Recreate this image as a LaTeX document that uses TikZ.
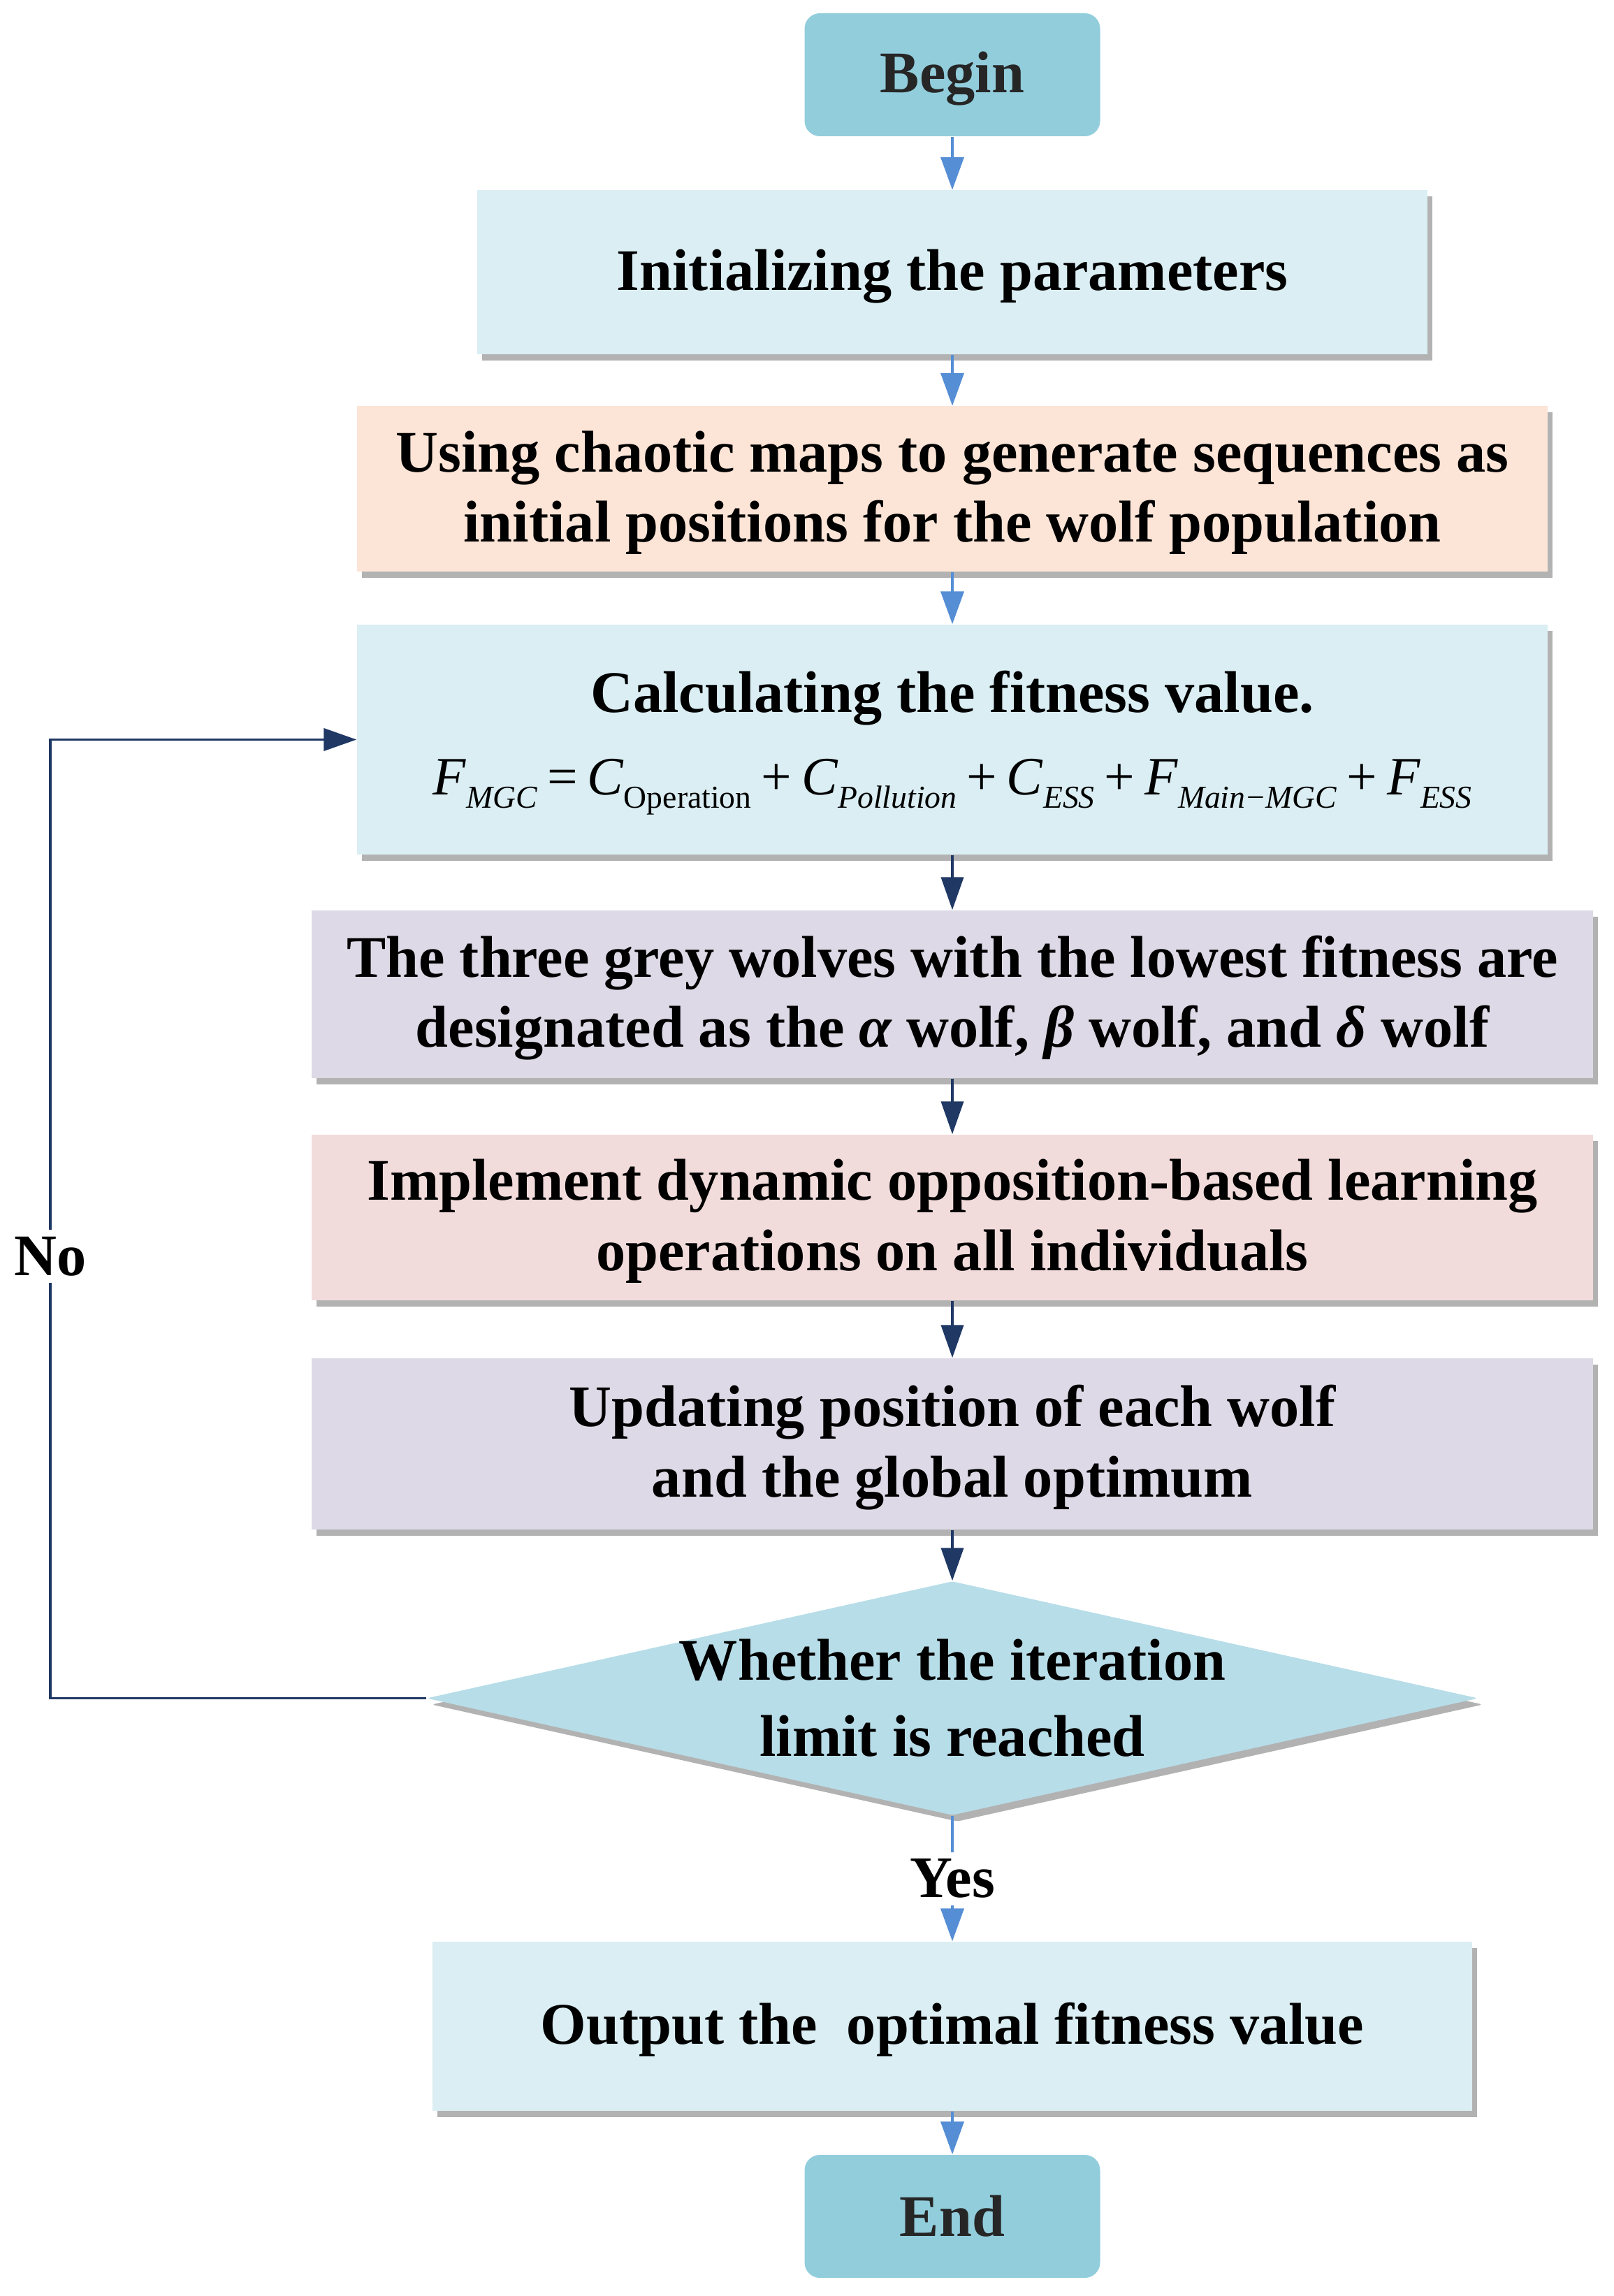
\documentclass[tikz,border=0pt]{standalone}
\usepackage{fontspec}
\setmainfont{Liberation Serif}
\usetikzlibrary{shapes.geometric,shadows,arrows.meta,calc}
\definecolor{cBegin}{HTML}{92CDDC}
\definecolor{cLight}{HTML}{DAEEF3}
\definecolor{cPeach}{HTML}{FCE4D6}
\definecolor{cLav}{HTML}{DDD9E6}
\definecolor{cPink}{HTML}{F2DCDB}
\definecolor{cDia}{HTML}{B7DDE8}
\definecolor{cArrL}{HTML}{558ED5}
\definecolor{cArrD}{HTML}{1F3864}
\newcommand{\sbs}[1]{\raisebox{-5.5pt}{\fontsize{13}{13}\selectfont #1}}
\newcommand{\opsp}{\hspace{0.18em}}
\newcommand{\topstrut}{\rule{0pt}{19.7pt}}
\begin{document}
\begin{tikzpicture}[
  every node/.style={font=\bfseries\fontsize{24}{28.6}\selectfont},
  term/.style={rectangle, rounded corners=0.22cm, fill=cBegin, minimum width=4.23cm, minimum height=1.76cm, text=black!85},
  procbox/.style={rectangle, inner sep=0pt, align=center, drop shadow={shadow xshift=0.07cm, shadow yshift=-0.09cm, fill=black, opacity=0.3}},
  decision/.style={diamond, inner sep=0pt, fill=cDia, minimum width=15.05cm, minimum height=3.35cm, rounded corners=0.05cm, drop shadow={shadow xshift=0.07cm, shadow yshift=-0.09cm, fill=black, opacity=0.3}},
  lightarrow/.style={draw=cArrL, line width=1.1pt, -{Triangle[width=0.33cm,length=0.47cm]}},
  darkarrow/.style={draw=cArrD, line width=1.1pt, -{Triangle[width=0.32cm,length=0.47cm]}},
  lbl/.style={fill=white, inner sep=0.1cm}
]
\useasboundingbox (0,0) rectangle (23.09,-32.86);

\node[term] (begin) at (13.63,-1.07) {\topstrut Begin};
\node[procbox, fill=cLight, minimum width=13.6cm, minimum height=2.35cm] (init) at (13.63,-3.90) {\topstrut Initializing the parameters};
\node[procbox, fill=cPeach, minimum width=17.04cm, minimum height=2.37cm] (chaos) at (13.63,-7.00) {\topstrut Using chaotic maps to generate sequences as\\initial positions for the wolf population};
\node[procbox, fill=cLight, minimum width=17.04cm, minimum height=3.29cm] (calc) at (13.63,-10.585) {\topstrut Calculating the fitness value.\\[5pt]
{\normalfont\fontsize{22}{26}\selectfont \textit{F}\sbs{\textit{MGC}}\opsp=\opsp\textit{C}\sbs{Operation}\opsp+\opsp\textit{C}\sbs{\textit{Pollution}}\opsp+\opsp\textit{C}\sbs{\textit{ESS}}\opsp+\opsp\textit{F}\sbs{\textit{Main}\kern0.5pt−\kern0.5pt\textit{MGC}}\opsp+\opsp\textit{F}\sbs{\textit{ESS}}}};
\node[procbox, fill=cLav, minimum width=18.34cm, minimum height=2.40cm] (grey) at (13.63,-14.23) {\topstrut The three grey wolves with the lowest fitness are\\designated as the {\itshape α} wolf, {\itshape β} wolf, and {\itshape δ} wolf};
\node[procbox, fill=cPink, minimum width=18.34cm, minimum height=2.37cm] (impl) at (13.63,-17.425) {\topstrut Implement dynamic opposition-based learning\\operations on all individuals};
\node[procbox, fill=cLav, minimum width=18.34cm, minimum height=2.45cm] (upd) at (13.63,-20.665) {\topstrut Updating position of each wolf\\and the global optimum};
\node[decision] (dec) at (13.63,-24.305) {};
\node[align=center, font=\bfseries\fontsize{24}{31}\selectfont] (dectext) at (dec.center) {Whether the iteration\\limit is reached};
\node[procbox, fill=cLight, minimum width=14.88cm, minimum height=2.42cm] (out) at (13.63,-29.00) {\topstrut Output the~ optimal fitness value};
\node[term] (end) at (13.63,-31.72) {End};

\draw[lightarrow] (begin) -- (init);
\draw[lightarrow] (init) -- (chaos);
\draw[lightarrow] (chaos) -- (calc);
\draw[darkarrow] (calc) -- (grey);
\draw[darkarrow] (grey) -- (impl);
\draw[darkarrow] (impl) -- (upd);
\draw[darkarrow] (upd) -- (dec);
\draw[lightarrow] (dec.south) -- node[lbl] (yes) {Yes} (out.north);
\draw[lightarrow] (out) -- (end);
\coordinate (lx) at (0.72,0);
\draw[darkarrow] (dec.west) -- (dec.west -| lx) -- node[lbl, pos=0.461] (no) {No} (calc.west -| lx) -- (calc.west);
\end{tikzpicture}
\end{document}
